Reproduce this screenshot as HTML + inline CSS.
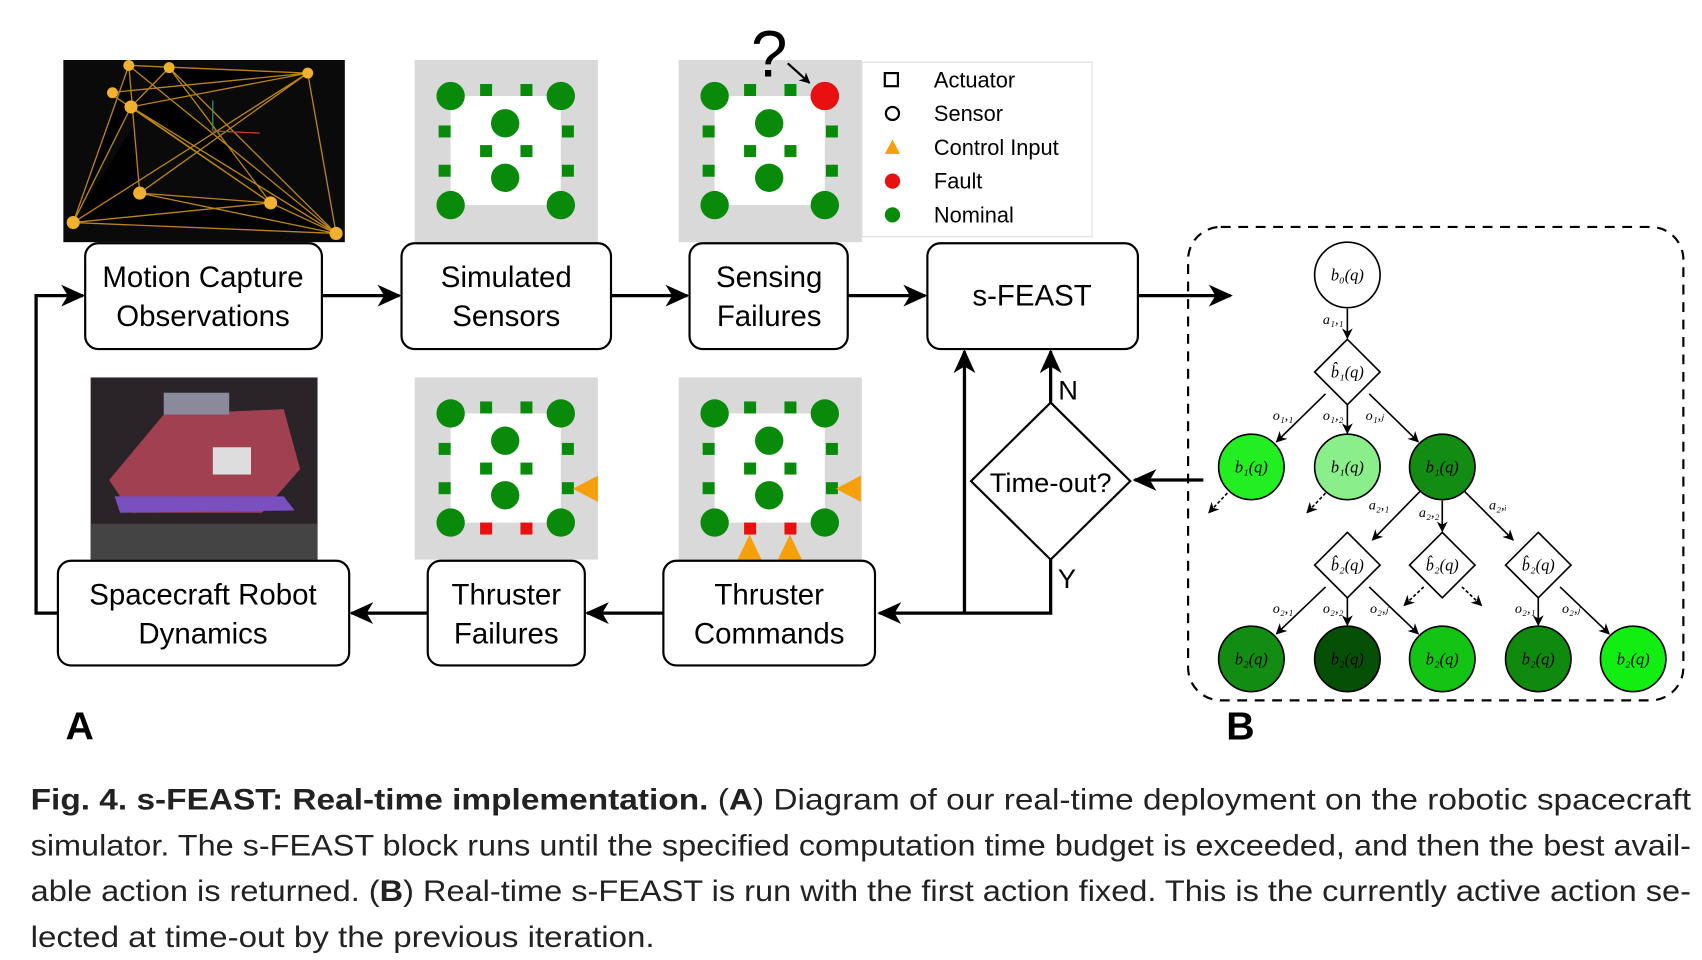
<!DOCTYPE html>
<html><head><meta charset="utf-8"><style>html,body{margin:0;padding:0;background:#fff}svg{display:block}</style></head>
<body>
<svg width="1702" height="960" viewBox="0 0 1560 880" xmlns="http://www.w3.org/2000/svg" font-family="Liberation Sans, sans-serif">
<defs>
<marker id="ah" markerWidth="10" markerHeight="10" refX="9" refY="5" orient="auto" markerUnits="userSpaceOnUse"><path d="M0,0 L10,5 L0,10 L3,5 z" fill="#000"/></marker>
<marker id="big" markerWidth="22" markerHeight="20" refX="20" refY="10" orient="auto" markerUnits="userSpaceOnUse"><path d="M0,0 L22,10 L0,20 L6,10 z" fill="#000"/></marker>
<g id="panel">
<rect x="0" y="0" width="168" height="167" fill="#d9d9d9"/>
<rect x="33" y="33" width="101" height="100" fill="#fff"/>
<g fill="#0a8a0a">
<circle cx="33" cy="33" r="13"/><circle cx="134" cy="33" r="13"/><circle cx="33" cy="133" r="13"/><circle cx="134" cy="133" r="13"/>
<circle cx="83" cy="58" r="13"/><circle cx="83" cy="108" r="13"/>
<rect x="60" y="22" width="11" height="11"/><rect x="97" y="22" width="11" height="11"/>
<rect x="22" y="60" width="11" height="11"/><rect x="22" y="96" width="11" height="11"/>
<rect x="135" y="60" width="11" height="11"/><rect x="135" y="96" width="11" height="11"/>
<rect x="60" y="78" width="11" height="11"/><rect x="97" y="78" width="11" height="11"/>
</g></g>
</defs>

<!-- mocap image -->
<rect x="58" y="55" width="258" height="167" fill="#0a0a0a"/>
<g stroke="#d89a20" stroke-width="1.2" opacity="0.85">
<path d="M118,60 L282,67 L308,214 L67,204 Z M118,60 L128,177 L248,186 L308,214 M155,62 L120,98 L67,204 M155,62 L248,186 M282,67 L128,177 M282,67 L120,98 L308,214 M118,60 L308,214 M155,62 L308,214 M67,204 L282,67 M67,204 L248,186 M120,98 L248,186 M128,177 L308,214 M100,85 L282,67 M100,85 L248,186"/>
</g>
<g fill="#f0b030"><circle cx="118" cy="60" r="5"/><circle cx="155" cy="62" r="5"/><circle cx="282" cy="67" r="5"/><circle cx="120" cy="98" r="6"/><circle cx="103" cy="85" r="5"/><circle cx="128" cy="177" r="6"/><circle cx="248" cy="186" r="6"/><circle cx="67" cy="204" r="6"/><circle cx="308" cy="214" r="6"/></g>
<path d="M195,120 L195,92 M195,120 L238,122" stroke="#3a6" stroke-width="1"/><path d="M195,120 L238,122" stroke="#d33" stroke-width="1"/>

<!-- robot photo -->
<rect x="83" y="346" width="208" height="167" fill="#2a2428"/>
<path d="M100,440 L150,380 L260,375 L275,430 L240,470 L120,470 Z" fill="#a04050"/>
<path d="M105,455 L260,455 L270,468 L110,470 Z" fill="#7a50c0"/>
<rect x="150" y="360" width="60" height="20" fill="#8a8a9a"/><rect x="195" y="410" width="35" height="25" fill="#ddd"/>
<rect x="83" y="480" width="208" height="33" fill="#444"/>

<!-- panels -->
<use href="#panel" x="380" y="55"/>
<use href="#panel" x="622" y="55"/>
<circle cx="756" cy="88" r="13" fill="#e81010"/>
<text x="705" y="70" font-size="60" text-anchor="middle">?</text>
<path d="M722,58 L742,76" stroke="#000" stroke-width="2" marker-end="url(#ah)"/>
<use href="#panel" x="380" y="346"/>
<use href="#panel" x="622" y="346"/>
<g fill="#e81010"><rect x="440" y="479" width="11" height="11"/><rect x="477" y="479" width="11" height="11"/><rect x="682" y="479" width="11" height="11"/><rect x="719" y="479" width="11" height="11"/></g>
<g fill="#f5a00a"><path d="M548,436 L548,460 L525,448 Z"/><path d="M789,436 L789,460 L766,448 Z"/><path d="M676,513 L698,513 L687,490 Z"/><path d="M713,513 L735,513 L724,490 Z"/></g>

<!-- legend -->
<rect x="790" y="57" width="211" height="160" fill="#fff" stroke="#ddd"/>
<g font-size="20"><rect x="811" y="67" width="12" height="12" fill="none" stroke="#000" stroke-width="2"/><text x="856" y="80">Actuator</text>
<circle cx="818" cy="104" r="6" fill="none" stroke="#000" stroke-width="2"/><text x="856" y="111">Sensor</text>
<path d="M818,128 L825,141 L811,141 Z" fill="#f5a00a"/><text x="856" y="142">Control Input</text>
<circle cx="818" cy="166" r="7" fill="#e81010"/><text x="856" y="173">Fault</text>
<circle cx="818" cy="197" r="7" fill="#0a8a0a"/><text x="856" y="204">Nominal</text></g>

<!-- boxes -->
<g fill="#fff" stroke="#000" stroke-width="2">
<rect x="78" y="223" width="217" height="97" rx="12"/>
<rect x="368" y="223" width="192" height="97" rx="12"/>
<rect x="632" y="223" width="145" height="97" rx="12"/>
<rect x="850" y="223" width="193" height="97" rx="12"/>
<rect x="53" y="514" width="267" height="96" rx="12"/>
<rect x="392" y="514" width="144" height="96" rx="12"/>
<rect x="608" y="514" width="194" height="96" rx="12"/>
<path d="M963,369 L1036,441 L963,513 L890,441 Z"/>
</g>
<g font-size="27" text-anchor="middle">
<text x="186" y="263">Motion Capture</text><text x="186" y="299">Observations</text>
<text x="464" y="263">Simulated</text><text x="464" y="299">Sensors</text>
<text x="705" y="263">Sensing</text><text x="705" y="299">Failures</text>
<text x="946" y="280">s-FEAST</text>
<text x="186" y="554">Spacecraft Robot</text><text x="186" y="590">Dynamics</text>
<text x="464" y="554">Thruster</text><text x="464" y="590">Failures</text>
<text x="705" y="554">Thruster</text><text x="705" y="590">Commands</text>
<text x="963" y="451" font-size="25">Time-out?</text>
<text x="979" y="366" font-size="25">N</text><text x="978" y="539" font-size="25">Y</text>
</g>

<!-- connectors -->
<g stroke="#000" stroke-width="3" fill="none" marker-end="url(#big)">
<path d="M295,271 L366,271"/><path d="M560,271 L630,271"/><path d="M777,271 L848,271"/>
<path d="M1043,271 L1128,271"/>
<path d="M53,562 L33,562 L33,271 L76,271"/>
<path d="M963,513 L963,562 L806,562"/>
<path d="M608,562 L538,562"/><path d="M392,562 L322,562"/>
<path d="M884,562 L884,322"/>
<path d="M963,369 L963,322"/>
<path d="M1103,440 L1040,440"/>
</g>

<!-- tree B -->
<rect x="1089" y="208" width="454" height="434" rx="30" fill="none" stroke="#000" stroke-width="2" stroke-dasharray="9,7"/>
<g stroke="#000" stroke-width="1.5" fill="none" marker-end="url(#ah)">
<path d="M1235,283 L1235,310"/>
<path d="M1215,361 L1170,405"/><path d="M1235,371 L1235,397"/><path d="M1255,361 L1300,405"/>
<path d="M1302,450 L1258,495"/><path d="M1322,459 L1322,487"/><path d="M1342,450 L1387,495"/>
<path d="M1215,538 L1170,581"/><path d="M1235,548 L1235,573"/><path d="M1255,538 L1300,581"/>
<path d="M1410,548 L1410,573"/><path d="M1430,538 L1475,581"/>
</g>
<g stroke="#000" stroke-width="1.5" fill="none" stroke-dasharray="3,2" marker-end="url(#ah)">
<path d="M1125,452 L1108,470"/><path d="M1215,452 L1198,470"/><path d="M1305,538 L1287,555"/><path d="M1340,538 L1358,555"/>
</g>
<g stroke="#000" stroke-width="1.5">
<circle cx="1235" cy="252" r="30" fill="#fff"/>
<path d="M1235,311 L1265,341 L1235,371 L1205,341 Z" fill="#fff"/>
<path d="M1235,488 L1265,518 L1235,548 L1205,518 Z" fill="#fff"/>
<path d="M1322,488 L1352,518 L1322,548 L1292,518 Z" fill="#fff"/>
<path d="M1410,488 L1440,518 L1410,548 L1380,518 Z" fill="#fff"/>
<circle cx="1147" cy="428" r="30" fill="#22ee22"/>
<circle cx="1235" cy="428" r="30" fill="#8aee8a"/>
<circle cx="1322" cy="428" r="30" fill="#128c12"/>
<circle cx="1147" cy="604" r="30" fill="#128c12"/>
<circle cx="1235" cy="604" r="30" fill="#064f06"/>
<circle cx="1322" cy="604" r="30" fill="#14c414"/>
<circle cx="1410" cy="604" r="30" fill="#0f8a0f"/>
<circle cx="1497" cy="604" r="30" fill="#12ee12"/>
</g>
<g font-family="Liberation Serif, serif" font-style="italic" font-size="15" text-anchor="middle">
<text x="1235" y="257">b₀(q)</text><text x="1235" y="346">b̂₁(q)</text>
<text x="1147" y="433">b₁(q)</text><text x="1235" y="433">b₁(q)</text><text x="1322" y="433">b₁(q)</text>
<text x="1235" y="523">b̂₂(q)</text><text x="1322" y="523">b̂₂(q)</text><text x="1410" y="523">b̂₂(q)</text>
<text x="1147" y="609">b₂(q)</text><text x="1235" y="609">b₂(q)</text><text x="1322" y="609">b₂(q)</text><text x="1410" y="609">b₂(q)</text><text x="1497" y="609">b₂(q)</text>
<g font-size="13"><text x="1222" y="297">a₁,₁</text>
<text x="1176" y="385">o₁,₁</text><text x="1222" y="385">o₁,₂</text><text x="1260" y="385">o₁,ⱼ</text>
<text x="1264" y="467">a₂,₁</text><text x="1310" y="474">a₂,₂</text><text x="1373" y="467">a₂,ᵢ</text>
<text x="1176" y="562">o₂,₁</text><text x="1222" y="562">o₂,₂</text><text x="1264" y="562">o₂,ⱼ</text>
<text x="1398" y="562">o₂,₁</text><text x="1440" y="562">o₂,ⱼ</text></g>
</g>

<text x="60" y="678" font-size="36" font-weight="bold">A</text>
<text x="1124" y="678" font-size="36" font-weight="bold">B</text>

<!-- caption -->
<g font-size="27" fill="#222">
<text x="28" y="742" textLength="1522" lengthAdjust="spacingAndGlyphs"><tspan font-weight="bold">Fig. 4. s-FEAST: Real-time implementation.</tspan> (<tspan font-weight="bold">A</tspan>) Diagram of our real-time deployment on the robotic spacecraft</text>
<text x="28" y="784" textLength="1522" lengthAdjust="spacingAndGlyphs">simulator. The s-FEAST block runs until the specified computation time budget is exceeded, and then the best avail-</text>
<text x="28" y="826" textLength="1522" lengthAdjust="spacingAndGlyphs">able action is returned. (<tspan font-weight="bold">B</tspan>) Real-time s-FEAST is run with the first action fixed. This is the currently active action se-</text>
<text x="28" y="868" textLength="572" lengthAdjust="spacingAndGlyphs">lected at time-out by the previous iteration.</text>
</g>
</svg>
</body></html>
